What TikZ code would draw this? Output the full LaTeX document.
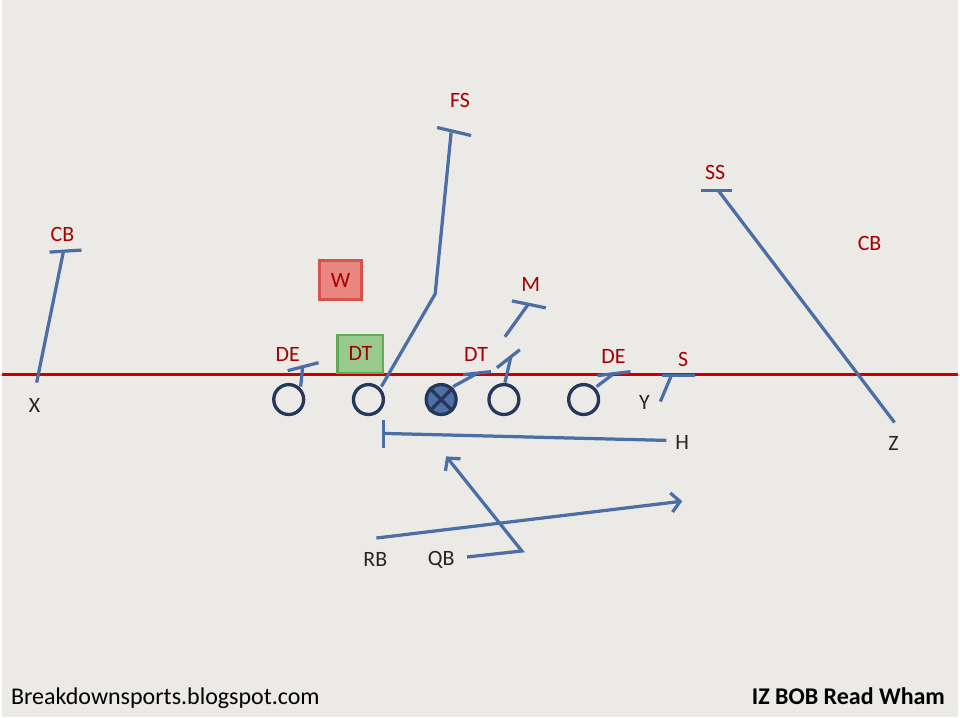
\documentclass[tikz,border=0pt]{standalone}
\usepackage{fontspec}
\setmainfont{Carlito}
\usepackage{tikz}
\usetikzlibrary{arrows.meta}
\definecolor{fieldgray}{RGB}{236,234,231}
\definecolor{losred}{RGB}{200,0,0}
\definecolor{defred}{RGB}{165,0,0}
\definecolor{routeblue}{RGB}{74,110,165}
\definecolor{olnavy}{RGB}{38,56,90}
\definecolor{olfill}{RGB}{80,112,170}
\definecolor{willfill}{RGB}{233,134,128}
\definecolor{willedge}{RGB}{214,82,76}
\definecolor{dtfill}{RGB}{152,202,142}
\definecolor{dtedge}{RGB}{98,170,88}

\begin{document}
\begin{tikzpicture}[x=0.02cm, y=-0.02cm]
    % Define styles
    \tikzstyle{lineman} = [circle, draw=olnavy, line width=1.9pt, minimum size=0.6cm, inner sep=0pt]
    \tikzstyle{deflabel} = [text=defred, font=\fontsize{12.5}{14}\selectfont, inner sep=1pt]
    \tikzstyle{offlabel} = [text=black!85, font=\fontsize{12.5}{14}\selectfont, inner sep=1pt]
    \tikzstyle{keybox} = [rectangle, line width=1.3pt, text=defred, font=\fontsize{12.5}{14}\selectfont, inner sep=0pt]
    \tikzstyle{route} = [draw=routeblue, line width=1.85pt]
    \tikzstyle{line} = [route, -{Straight Barb[length=5pt, width=11pt, line width=1.85pt]}]

    % Field
    \fill[fieldgray] (0,0) rectangle (960,720);
    \coordinate (losl) at (0,376);
    \coordinate (losr) at (960,376);
    \draw[losred, line width=2pt] (losl) -- (losr);

    % Nodes
    \node [keybox, fill=willfill, draw=willedge, minimum width=0.84cm, minimum height=0.78cm] (will) at (340,281) {W};
    \node [keybox, fill=dtfill, draw=dtedge, minimum width=0.92cm, minimum height=0.76cm] (dtbox) at (360,355) {DT};

    \node [lineman] (lt) at (288,401) {};
    \node [lineman] (lg) at (368,401) {};
    \node [lineman, fill=olfill] (ctr) at (441,401) {};
    \node [lineman] (rg) at (504,401) {};
    \node [lineman] (rt) at (584,401) {};
    \draw[olnavy, line width=1.9pt] (ctr.north west) -- (ctr.south east);
    \draw[olnavy, line width=1.9pt] (ctr.north east) -- (ctr.south west);

    \node [deflabel] (cbl) at (61,235) {CB};
    \node [deflabel] (fs) at (460,101) {FS};
    \node [deflabel] (ss) at (716,173) {SS};
    \node [deflabel] (cbr) at (871,244) {CB};
    \node [deflabel] (mike) at (531,286) {M};
    \node [deflabel] (del) at (287,356) {DE};
    \node [deflabel] (dtr) at (476,356) {DT};
    \node [deflabel] (der) at (614,358) {DE};
    \node [deflabel] (sam) at (684,361) {S};

    \node [offlabel] (xrec) at (33,407) {X};
    \node [offlabel] (yrec) at (645,404) {Y};
    \node [offlabel] (hback) at (683,444) {H};
    \node [offlabel] (zrec) at (895,445) {Z};
    \node [offlabel] (rb) at (375,562) {RB};
    \node [offlabel] (qb) at (441,562) {QB};

    \node [anchor=base west, inner sep=0pt, font=\fontsize{13.7}{16}\selectfont] (blog) at (9,707) {Breakdownsports.blogspot.com};
    \node [anchor=base east, inner sep=0pt, font=\bfseries\fontsize{13.7}{16}\selectfont] (title) at (947,707) {IZ BOB Read Wham};

    % Route points
    \coordinate (x0) at (35,384);  \coordinate (x1) at (62,252);
    \coordinate (xb0) at (48,253); \coordinate (xb1) at (80,251);
    \coordinate (lt0) at (300,388); \coordinate (lt1) at (302,368);
    \coordinate (ltb0) at (287,372); \coordinate (ltb1) at (318,364);
    \coordinate (lg0) at (381,388); \coordinate (lg1) at (435,295); \coordinate (lg2) at (451,133);
    \coordinate (lgb0) at (437,128); \coordinate (lgb1) at (471,136);
    \coordinate (c0) at (453,388); \coordinate (c1) at (475,376);
    \coordinate (cb0) at (463,376); \coordinate (cb1) at (491,373);
    \coordinate (rg0) at (505,384); \coordinate (rg1) at (511,358);
    \coordinate (rgb0) at (497,369); \coordinate (rgb1) at (520,351);
    \coordinate (rg2) at (505,338); \coordinate (rg3) at (528,306);
    \coordinate (rgb2) at (512,302); \coordinate (rgb3) at (546,309);
    \coordinate (rt0) at (597,388); \coordinate (rt1) at (613,376);
    \coordinate (rtb0) at (598,377); \coordinate (rtb1) at (631,373);
    \coordinate (y0) at (661,403); \coordinate (y1) at (672,377);
    \coordinate (yb0) at (663,377); \coordinate (yb1) at (696,377);
    \coordinate (z0) at (896,424); \coordinate (z1) at (719,191);
    \coordinate (zb0) at (702,191); \coordinate (zb1) at (733,191);
    \coordinate (h0) at (383,435); \coordinate (h1) at (667,442);
    \coordinate (hb0) at (383,422); \coordinate (hb1) at (383,450);
    \coordinate (qb0) at (467,559); \coordinate (qb1) at (522,553); \coordinate (qb2) at (446,458);
    \coordinate (rb0) at (376,540); \coordinate (rb1) at (683,503);

    % Connections
    \path [route] (x0) -- (x1);   \path [route] (xb0) -- (xb1);
    \path [route] (lt0) -- (lt1); \path [route] (ltb0) -- (ltb1);
    \path [route] (lg0) -- (lg1) -- (lg2); \path [route] (lgb0) -- (lgb1);
    \path [route] (c0) -- (c1);   \path [route] (cb0) -- (cb1);
    \path [route] (rg0) -- (rg1); \path [route] (rgb0) -- (rgb1);
    \path [route] (rg2) -- (rg3); \path [route] (rgb2) -- (rgb3);
    \path [route] (rt0) -- (rt1); \path [route] (rtb0) -- (rtb1);
    \path [route] (y0) -- (y1);   \path [route] (yb0) -- (yb1);
    \path [route] (z0) -- (z1);   \path [route] (zb0) -- (zb1);
    \path [route] (hb1) -- (hb0); \path [route] (h0) -- (h1);
    \path [line] (qb0) -- (qb1) -- (qb2);
    \path [line] (rb0) -- (rb1);
\end{tikzpicture}
\end{document}
